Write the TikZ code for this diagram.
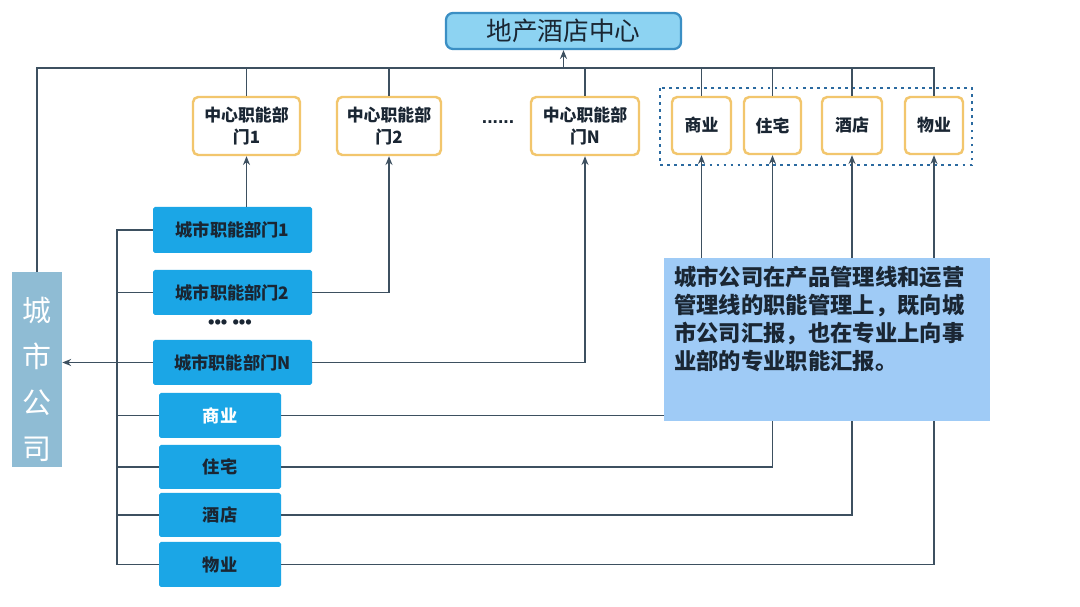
\documentclass[tikz,border=0pt]{standalone}
\usepackage{fontspec}
\setmainfont{Noto Sans CJK SC}
\newfontfamily\latinf{Liberation Sans}
\usetikzlibrary{arrows.meta}
\newdimen\px \px=0.02cm
\definecolor{topfill}{HTML}{8DD3F2}
\definecolor{topdraw}{HTML}{3B8FC4}
\definecolor{orangeb}{HTML}{F2C66D}
\definecolor{bluebox}{HTML}{1BA6E6}
\definecolor{cityfill}{HTML}{8FBCD4}
\definecolor{notefill}{HTML}{9FCBF6}
\definecolor{linec}{HTML}{3D5060}
\definecolor{dotc}{HTML}{2B6AA0}
\definecolor{darktxt}{HTML}{1A2633}
\tikzset{
  conn/.style={draw=linec, line width=1.1pt},
  arr/.style={conn, -{Stealth[length=5pt,width=4pt]}},
  centerbox/.style={draw=orangeb, line width=1.4pt, fill=white, rounded corners=3pt,
     align=center, font=\fontsize{9.6}{12.5}\selectfont\bfseries, text=darktxt, inner sep=0pt},
  bluebx/.style={fill=bluebox, draw=none, rounded corners=1pt, font=\fontsize{9.8}{12}\selectfont\bfseries,
     text=darktxt, inner sep=0pt},
}
\begin{document}
\begin{tikzpicture}[x=0.02cm,y=-0.02cm]
\useasboundingbox[fill=white] (0,0) rectangle (1080,607);
\coordinate (bus) at (0,68);
\coordinate (brk) at (117,0);
% top
\node[draw=topdraw, line width=1.3pt, fill=topfill, rounded corners=4pt, minimum width=235\px, minimum height=36\px,
  inner sep=0pt, font=\fontsize{14.6}{16}\selectfont, text=darktxt] (top) at (563.5,31) {地产酒店中心};
% center departments
\node[centerbox, minimum width=107\px, minimum height=58\px] (c1) at (246.5,126) {中心职能部\\门1};
\node[centerbox, minimum width=104\px, minimum height=58\px] (c2) at (389,126) {中心职能部\\门2};
\node[centerbox, minimum width=108\px, minimum height=58\px] (cn) at (585,126) {中心职能部\\门N};
\node[font=\latinf\fontsize{11}{12}\selectfont\bfseries, text=darktxt] (cdots) at (498,122) {......};
% business units
\draw[dotc, line width=1.6pt, dash pattern=on 1.6pt off 2.4pt] (660,88) rectangle (972,165);
\node[centerbox, minimum width=59\px, minimum height=57\px] (t1) at (701.5,125.5) {商业};
\node[centerbox, minimum width=57\px, minimum height=57\px] (t2) at (772.5,125.5) {住宅};
\node[centerbox, minimum width=60\px, minimum height=57\px] (t3) at (852,125.5) {酒店};
\node[centerbox, minimum width=58\px, minimum height=57\px] (t4) at (934,125.5) {物业};
% city function departments
\node[bluebx, minimum width=159\px, minimum height=46\px] (b1) at (232.5,230) {城市职能部门1};
\node[bluebx, minimum width=159\px, minimum height=45\px] (b2) at (232.5,292.5) {城市职能部门2};
\node[font=\latinf\fontsize{10.5}{12}\selectfont\bfseries, text=darktxt] (bdots) at (230,324) {••• •••};
\node[bluebx, minimum width=159\px, minimum height=45\px] (bn) at (232.5,362.5) {城市职能部门N};
\node[bluebx, minimum width=122\px, minimum height=45\px, text=white] (l1) at (220,415.5) {商业};
\node[bluebx, minimum width=122\px, minimum height=44\px] (l2) at (220,467) {住宅};
\node[bluebx, minimum width=122\px, minimum height=44\px] (l3) at (220,515) {酒店};
\node[bluebx, minimum width=122\px, minimum height=45\px] (l4) at (220,564.5) {物业};
% city company
\node[fill=cityfill, minimum width=50\px, minimum height=195\px, inner sep=0pt] (city) at (37,369.5) {};
\node[inner sep=0pt, align=center, font=\fontsize{16.5}{26.2}\selectfont, text=white] (citytext) at (37,379) {城\\市\\公\\司};
% connectors
\draw[conn] (city.north) -- (city.north |- bus) -- (bus -| t4.north) -- (t4.north);
\foreach \n in {c1,c2,cn,t1,t2,t3} { \draw[conn] (\n.north |- bus) -- (\n.north); }
\draw[arr] (top.south |- bus) -- (top.south);
\draw[arr] (c1.south |- b1.north) -- (c1.south);
\draw[arr] (b2.east) -| (c2.south);
\draw[arr] (bn.east) -| (cn.south);
\draw[arr] (l1.east) -| (t1.south);
\draw[arr] (l2.east) -| (t2.south);
\draw[arr] (l3.east) -| (t3.south);
\draw[arr] (l4.east) -| (t4.south);
\draw[conn] (b1.west) -- (b1.west -| brk) -- (l4.west -| brk) -- (l4.west);
\foreach \n in {b2,l1,l2,l3} { \draw[conn] (\n.west -| brk) -- (\n.west); }
\draw[arr] (bn.west) -- (city.east |- bn.west);
% note
\node[fill=notefill, minimum width=326\px, minimum height=163\px] (note) at (827,339.5) {};
\node[anchor=north west, align=left, inner sep=0pt, text=darktxt,
  font=\fontsize{12.7}{15.9}\selectfont\bfseries] (notetext) at (674,266)
  {城市公司在产品管理线和运营\\管理线的职能管理上，既向城\\市公司汇报，也在专业上向事\\业部的专业职能汇报。};
\end{tikzpicture}
\end{document}
